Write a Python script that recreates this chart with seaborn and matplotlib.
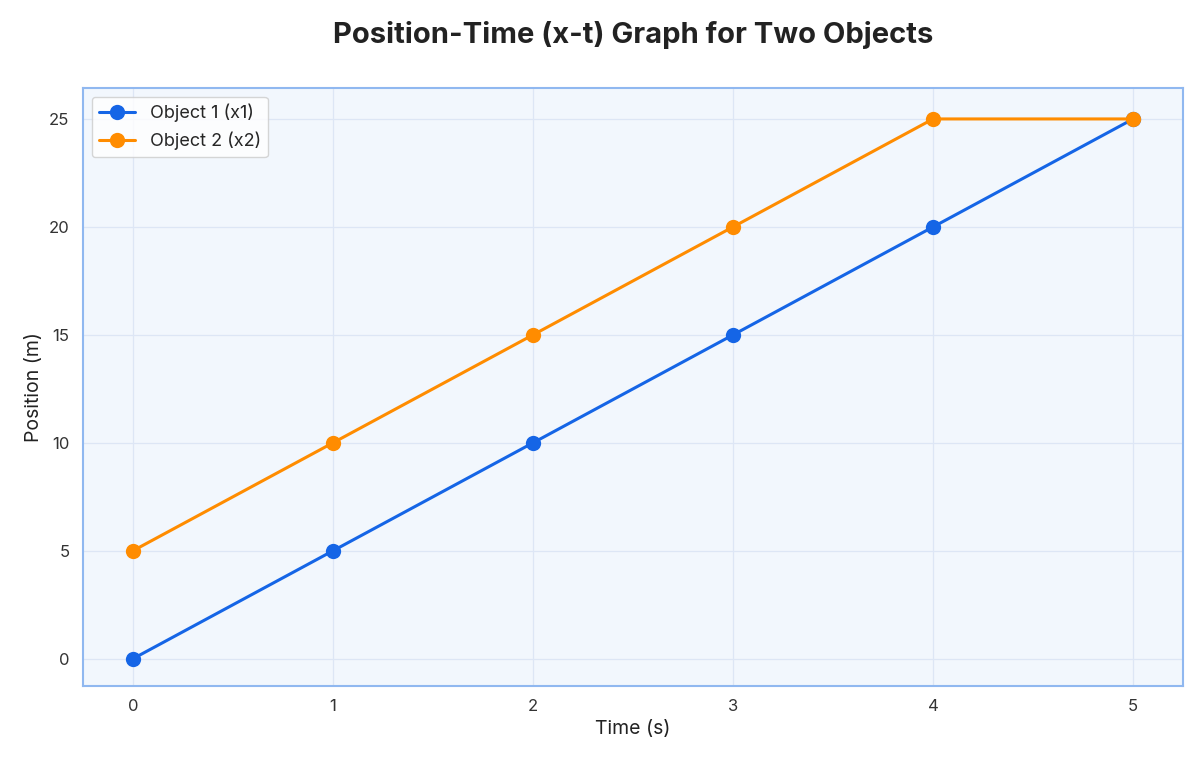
import matplotlib
matplotlib.use("Agg")
import matplotlib.pyplot as plt
import seaborn as sns
import pandas as pd

time_s = [0, 1, 2, 3, 4, 5]
x1 = [0, 5, 10, 15, 20, 25]
x2 = [5, 10, 15, 20, 25, 25]

sns.set_theme(style="whitegrid")
plt.rcParams['font.family'] = ['Inter', 'DejaVu Sans']

df = pd.concat([
    pd.DataFrame({"t": time_s, "x": x1, "s": "Object 1 (x1)"}),
    pd.DataFrame({"t": time_s, "x": x2, "s": "Object 2 (x2)"}),
])

fig, ax = plt.subplots(figsize=(12, 7.62), dpi=100)
fig.subplots_adjust(left=0.069, right=0.986, top=0.885, bottom=0.1)
ax.set_facecolor("#f2f7fd")
sns.lineplot(data=df, x="t", y="x", hue="s", palette=["#1565e6", "#ff8c00"],
             marker="o", markersize=11, markeredgewidth=0, linewidth=2.2, ax=ax)
ax.grid(True, color="#dde6f5", linewidth=0.9)
for sp in ax.spines.values():
    sp.set_color("#90b8f0")
    sp.set_linewidth(1.5)
ax.set_xticks(time_s)
ax.set_yticks([0, 5, 10, 15, 20, 25])
ax.set_ylim(-1.25, 26.45)
ax.set_xlabel("Time (s)", fontsize=14, color="#222")
ax.set_ylabel("Position (m)", fontsize=14, color="#222")
ax.tick_params(labelsize=12, colors="#333")
ax.set_title("Position-Time (x-t) Graph for Two Objects", fontsize=21,
             fontweight="bold", pad=32, color="#222")
leg = ax.legend(loc="upper left", fontsize=13, title=None, frameon=True)
fig.savefig("out.png", dpi=100)
